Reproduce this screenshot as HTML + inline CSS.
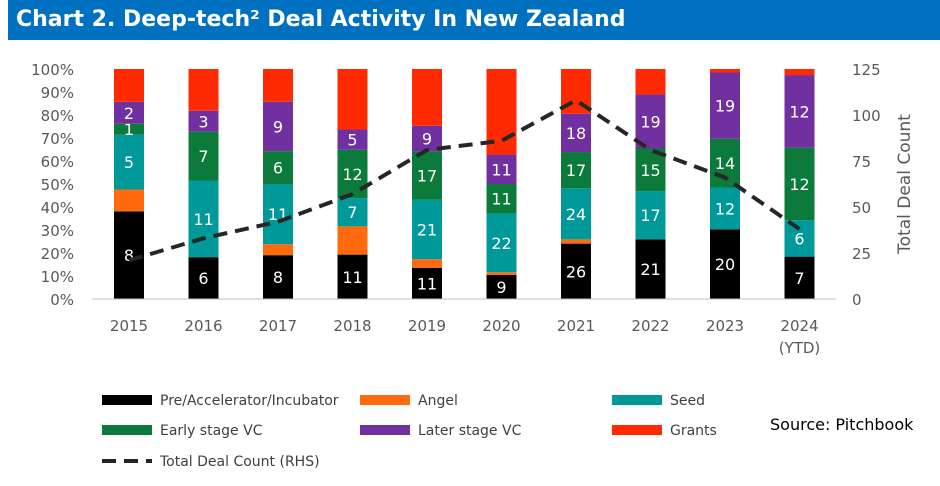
<!DOCTYPE html>
<html><head><meta charset="utf-8"><style>
body{margin:0;width:940px;height:486px;background:#fff;font-family:"DejaVu Sans","Liberation Sans",sans-serif;overflow:hidden}
#title{position:absolute;left:8px;top:0;width:932px;height:40px;background:#0070C0;color:#fff;font-weight:bold;font-size:22px;line-height:40px;padding-left:8px;box-sizing:border-box}
</style></head><body>
<div id="title">Chart 2. Deep-tech² Deal Activity In New Zealand</div>
<svg id="c" width="940" height="486" style="position:absolute;left:0;top:0"></svg>
<script>
const years=["2015","2016","2017","2018","2019","2020","2021","2022","2023","2024"];
const preAcc=[8,6,8,11,11,9,26,21,20,7];
const angel=[2,0,2,7,3,1,2,0,0,0];
const seed=[5,11,11,7,21,22,24,17,12,6];
const early=[1,7,6,12,17,11,17,15,14,12];
const later=[2,3,9,5,9,11,18,19,19,12];
const grants=[3,6,6,15,20,32,21,9,1,1];
const totals=[21,33,42,57,81,86,108,81,66,38];
const leftTicks=["0%","10%","20%","30%","40%","50%","60%","70%","80%","90%","100%"];
const rightTicks=[0,25,50,75,100,125];
const NS="http://www.w3.org/2000/svg";
const svg=document.getElementById('c');
function el(t,a,txt){const e=document.createElementNS(NS,t);for(const k in a)e.setAttribute(k,a[k]);if(txt!==undefined)e.textContent=txt;svg.appendChild(e);return e;}
const y0=299,y1=69,x0=92,x1=836;
const yP=p=>y0-(y0-y1)*p/100;
const yR=v=>y0-(y0-y1)*v/125;
const xC=i=>129+i*74.5;
const grey="#595959";
leftTicks.forEach((t,i)=>{const e=el('text',{x:74,y:yP(i*10)+6,'text-anchor':'end','font-size':15,fill:grey},t);

});
rightTicks.forEach(v=>{const e=el('text',{x:852,y:yR(v)+6,'font-size':15,fill:grey},v);

});
const yt=el('text',{x:910,y:184,'text-anchor':'middle','font-size':17,fill:grey,transform:'rotate(-90 910 184)'},'Total Deal Count');


const series=[[preAcc,"#000000",true,"pre-accelerator"],[angel,"#FF6A0E",false,"angel"],[seed,"#00999A",true,"seed"],[early,"#0B7A3A",true,"early-stage-vc"],[later,"#7030A0",true,"later-stage-vc"],[grants,"#FF2A00",false,"grants"]];
years.forEach((yr,i)=>{
 const tot=series.reduce((s,a)=>s+a[0][i],0);let cum=0;
 series.forEach(([arr,col,lab,nm])=>{const v=arr[i];if(!v)return;const p0=cum/tot*100,p1=(cum+v)/tot*100;cum+=v;
  const r=el('rect',{x:xC(i)-15,y:yP(p1),width:30,height:yP(p0)-yP(p1),fill:col});
  
  
  if(lab){const t=el('text',{x:xC(i),y:(yP(p0)+yP(p1))/2+6,'text-anchor':'middle','font-size':16,fill:'#fff'},v);
  
  }
 });
 const xl=el('text',{x:xC(i),y:331,'text-anchor':'middle','font-size':15,fill:grey},yr);
 
 
});
const yt2=el('text',{x:xC(9),y:353,'text-anchor':'middle','font-size':15,fill:grey},'(YTD)');


const ax=el('line',{x1:x0,y1:y0,x2:x1,y2:y0,stroke:'#bfbfbf','stroke-width':1});


const pts=totals.map((v,i)=>xC(i)+','+yR(v)).join(' ');
const ln=el('polyline',{points:pts,fill:'none',stroke:'#262626','stroke-width':4,'stroke-dasharray':'14 8'});


const leg=[[102,400,"#000000","Pre/Accelerator/Incubator"],[360,400,"#FF6A0E","Angel"],[612,400,"#00999A","Seed"],[102,430,"#0B7A3A","Early stage VC"],[360,430,"#7030A0","Later stage VC"],[612,430,"#FF2A00","Grants"]];
leg.forEach(([x,y,c,t])=>{const r=el('rect',{x:x,y:y-5,width:50,height:10,fill:c});


const tx=el('text',{x:x+58,y:y+5,'font-size':14,fill:'#404040'},t);

});
const ll=el('line',{x1:102,y1:461,x2:152,y2:461,stroke:'#262626','stroke-width':4,'stroke-dasharray':'14 8'});


const lt=el('text',{x:160,y:466,'font-size':14,fill:'#404040'},'Total Deal Count (RHS)');


const src=el('text',{x:770,y:430,'font-size':16,fill:'#000'},'Source: Pitchbook');


</script>
</body></html>
